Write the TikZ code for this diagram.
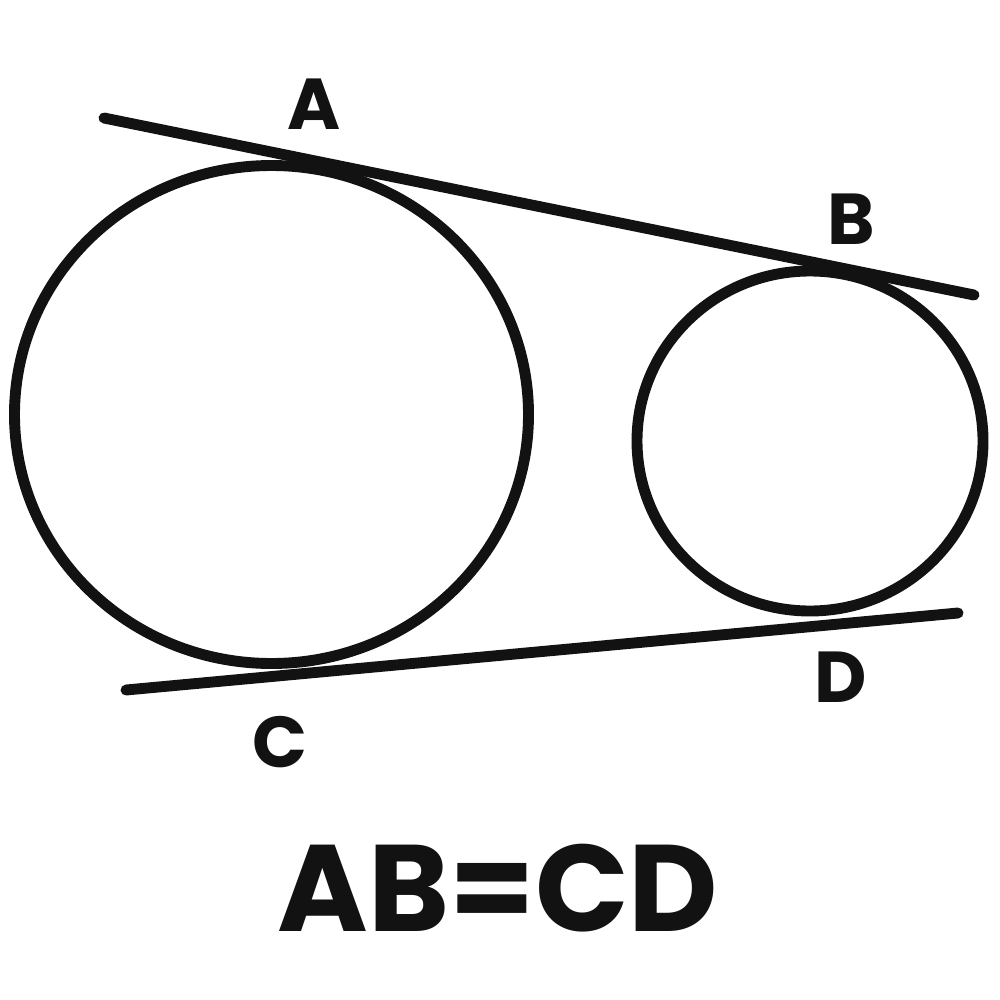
\documentclass[tikz,border=0pt]{standalone}
\usepackage{fontspec}
\setmainfont{Poppins}
\begin{document}
\begin{tikzpicture}[x=0.01cm,y=-0.01cm,
  stroke/.style={line width=3.1pt,line cap=round,black!93},
  lbl/.style={font=\fontsize{20.5}{22}\selectfont\bfseries,text=black!93,inner sep=0pt},
  eqn/.style={font=\fontsize{35}{37}\selectfont\bfseries,text=black!93,inner sep=0pt}]
\useasboundingbox (0,0) rectangle (1000,1000);
% circles
\draw[stroke] (271.5,414.5) ellipse [x radius=257, y radius=249];
\draw[stroke] (810,441) ellipse [x radius=173, y radius=170];
% tangent line end points
\coordinate (t1) at (104,118);
\coordinate (t2) at (974,295);
\coordinate (b1) at (126,690);
\coordinate (b2) at (958,613);
\draw[stroke] (t1) -- (t2);
\draw[stroke] (b1) -- (b2);
% labels
\node[lbl] (A) at (314,104) {A};
\node[lbl] (B) at (851,219) {B};
\node[lbl] (C) at (280,742) {C};
\node[lbl] (D) at (841,677) {D};
\node[eqn] (eq) at (498,888) {AB=CD};
\end{tikzpicture}
\end{document}
